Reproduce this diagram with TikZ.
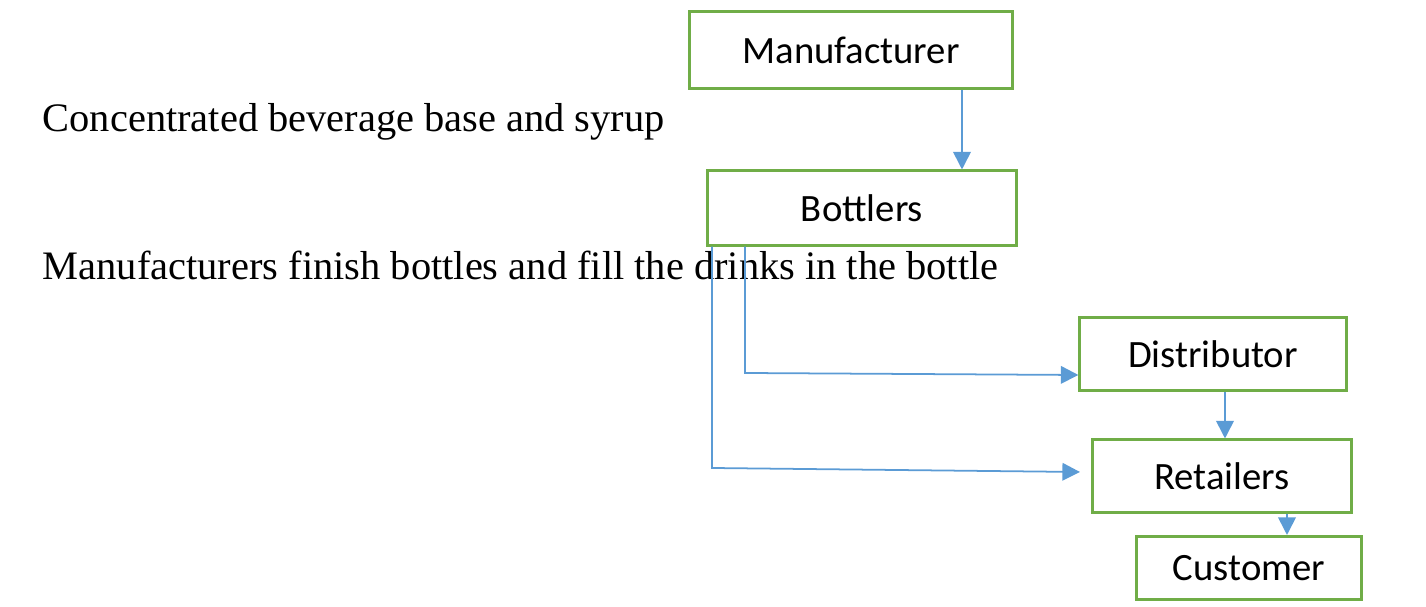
\documentclass[tikz,border=0pt]{standalone}
\usepackage{fontspec}
\setmainfont{Liberation Serif}
\newfontfamily\boxfont{Carlito}
\usetikzlibrary{arrows.meta}
\definecolor{bgreen}{RGB}{112,173,71}
\definecolor{ablue}{RGB}{91,155,213}
\begin{document}
\begin{tikzpicture}[x=0.01cm,y=-0.01cm,
  boxn/.style={draw=bgreen,line width=0.85pt,font=\boxfont\fontsize{11}{13}\selectfont,inner sep=0pt},
  conn/.style={draw=ablue,line width=0.5pt,-{Triangle[length=5pt,width=5pt]}},
  lbl/.style={font=\fontsize{11.5}{13}\selectfont,anchor=base west,inner sep=0pt}]
\useasboundingbox (0,0) rectangle (1426,607);
\node[boxn,minimum width=3.22cm,minimum height=0.76cm] (man) at (851,50) {Manufacturer};
\node[boxn,minimum width=3.09cm,minimum height=0.74cm] (bot) at (862,208) {Bottlers};
\node[boxn,minimum width=2.66cm,minimum height=0.72cm] (dis) at (1213,354) {Distributor};
\node[boxn,minimum width=2.59cm,minimum height=0.72cm] (ret) at (1222,476) {Retailers};
\node[boxn,minimum width=2.25cm,minimum height=0.63cm] (cus) at (1249,568) {Customer};
\node[lbl] (t1) at (42,132) {Concentrated beverage base and syrup};
\node[lbl] (t2) at (42,280) {Manufacturers finish bottles and fill the drinks in the bottle};
\draw[conn] (man.south -| 962,0) -- (bot.north -| 962,0);
\draw[conn] (bot.south -| 745,0) -- (745,373) -- (dis.west |- 0,375);
\draw[conn] (bot.south -| 712,0) -- (712,468) -- (1080,472);
\draw[conn] (dis.south -| 1225,0) -- (ret.north -| 1225,0);
\draw[conn] (ret.south -| 1287,0) -- (cus.north -| 1287,0);
\end{tikzpicture}
\end{document}
